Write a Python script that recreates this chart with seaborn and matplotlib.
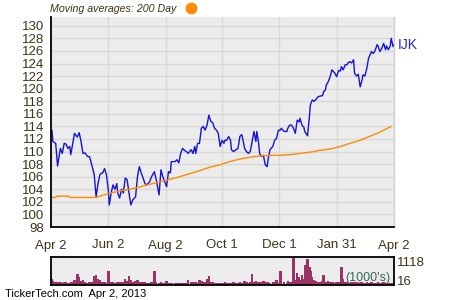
import matplotlib
matplotlib.use("Agg")
import matplotlib.pyplot as plt
import seaborn as sns
import numpy as np
import pandas as pd
from matplotlib.ticker import FixedLocator

# ---------------- data ----------------
price_days = [0, 1, 2, 5, 7, 8, 10, 12, 14, 16,
              18, 20, 21, 22, 25, 28, 30, 32, 34, 36,
              39, 41, 43, 46, 48, 50, 52, 53, 55, 57,
              59, 61, 62, 64, 66, 68, 70, 71, 73, 75,
              77, 79, 81, 83, 85, 87, 90, 92, 94, 96,
              98, 100, 102, 105, 107, 110, 112, 115, 117, 119,
              121, 123, 125, 127, 128, 132, 134, 136, 138, 140,
              142, 144, 146, 149, 151, 153, 154, 156, 158, 160,
              162, 164, 166, 168, 170, 172, 174, 176, 178, 180,
              182, 184, 185, 187, 189, 191, 192, 194, 197, 199,
              201, 203, 205, 206, 208, 210, 212, 214, 216, 218,
              219, 221, 222, 224, 226, 228, 230, 231, 233, 236,
              238, 240, 242, 244, 245, 248, 251, 252, 254, 256,
              258, 260, 262, 264, 265, 267, 269, 270, 273, 275,
              276, 278, 280, 282, 284, 286, 289, 290, 292, 293,
              295, 297, 299, 300, 302, 304, 306, 308, 309, 311,
              313, 315, 316, 318, 320, 322, 323, 325, 327, 329,
              331, 332, 334, 336, 338, 339, 341, 343, 345, 347,
              348, 350, 352, 354, 356, 357, 359, 361, 362, 364,
              365]

price_values = [113.3, 113.4, 111.6, 111.3, 107.7, 108.7, 110.5, 109.7, 111.3, 111.2,
                110.5, 110.8, 109.5, 110.3, 112.9, 112.3, 113.0, 111.6, 109.7, 109.8,
                109.2, 109.2, 108.1, 106.3, 102.8, 104.9, 106.3, 106.5, 106.6, 107.3,
                106.3, 103.9, 101.5, 103.4, 104.7, 104.0, 104.9, 103.4, 102.6, 104.0,
                103.4, 105.8, 105.5, 103.4, 101.5, 102.3, 102.8, 106.0, 107.6, 106.6,
                105.8, 104.9, 104.7, 105.2, 106.0, 106.8, 105.5, 103.1, 107.1, 106.0,
                105.2, 104.4, 106.8, 106.6, 108.4, 108.4, 108.7, 108.2, 109.7, 110.5,
                110.2, 110.0, 109.7, 110.3, 109.7, 110.8, 109.7, 111.3, 111.3, 113.7,
                114.0, 113.4, 114.2, 115.8, 114.8, 114.6, 113.7, 113.4, 112.9, 110.8,
                111.8, 111.3, 111.8, 111.8, 112.4, 111.8, 110.3, 110.0, 110.3, 110.5,
                112.4, 112.7, 111.3, 110.5, 110.0, 109.7, 110.0, 111.6, 113.2, 111.6,
                113.2, 111.3, 109.7, 109.2, 109.4, 107.9, 107.6, 108.7, 110.3, 110.8,
                111.8, 112.1, 113.4, 113.4, 113.7, 113.2, 113.2, 113.7, 114.2, 114.2,
                113.7, 112.9, 115.0, 114.7, 115.3, 114.2, 113.9, 113.2, 112.5, 115.6,
                117.4, 118.2, 118.0, 118.3, 118.7, 118.8, 118.9, 119.5, 119.8, 120.6,
                121.1, 121.9, 123.0, 122.8, 122.5, 121.9, 122.9, 122.8, 123.5, 123.0,
                123.8, 123.8, 124.1, 124.3, 124.1, 124.6, 122.5, 122.0, 122.3, 120.3,
                121.4, 122.2, 122.0, 123.2, 124.9, 125.2, 125.9, 125.6, 126.1, 127.0,
                126.8, 125.9, 126.4, 127.2, 126.2, 126.8, 126.2, 126.8, 128.0, 126.7,
                127.0]

volume_values = [320, 250, 150, 120, 100, 130, 110, 90, 120, 100,
                 90, 80, 100, 110, 200, 427, 320, 150, 180, 110,
                 90, 130, 100, 370, 400, 250, 180, 120, 100, 110,
                 90, 570, 220, 120, 100, 80, 110, 90, 100, 130,
                 110, 250, 150, 370, 180, 120, 150, 200, 110, 130,
                 100, 110, 90, 80, 100, 560, 120, 90, 100, 80,
                 90, 160, 80, 70, 80, 90, 70, 80, 60, 70,
                 80, 90, 200, 110, 130, 90, 100, 80, 200, 150,
                 100, 120, 250, 370, 110, 100, 80, 90, 70, 90,
                 80, 70, 100, 80, 90, 70, 60, 100, 80, 90,
                 120, 80, 90, 150, 100, 80, 110, 440, 130, 150,
                 120, 110, 130, 100, 150, 120, 100, 130, 90, 100,
                 110, 200, 90, 560, 120, 100, 90, 150, 130, 100,
                 1118, 200, 460, 300, 200, 390, 250, 810, 1040, 720,
                 550, 300, 200, 150, 120, 100, 140, 390, 120, 100,
                 150, 110, 130, 100, 90, 120, 100, 110, 720, 250,
                 130, 100, 120, 90, 100, 110, 80, 100, 90, 110,
                 100, 90, 80, 100, 90, 80, 100, 90, 80, 90,
                 100, 80, 90, 100, 80, 70, 90, 80, 70, 60,
                 60]

ma_days = [0, 5, 6, 19, 20, 48, 52, 63, 73, 84, 95, 105, 116, 127, 137, 148, 159,
           169, 180, 190, 201, 212, 222, 233, 244, 254, 265, 276, 286, 297, 308,
           318, 329, 339, 350, 362]
ma_values = [102.7, 102.7, 102.9, 102.9, 102.7, 102.7, 102.9, 103.4, 103.7, 104.0,
             104.4, 104.8, 105.2, 105.6, 106.0, 106.5, 107.0, 107.5, 107.9, 108.4,
             108.8, 109.1, 109.3, 109.4, 109.4, 109.5, 109.7, 109.9, 110.2, 110.4,
             110.8, 111.3, 111.8, 112.4, 113.1, 114.0]

tick_days = [0, 61, 122, 182, 243, 304, 365]
tick_labels = ["Apr 2", "Jun 2", "Aug 2", "Oct 1", "Dec 1", "Jan 31", "Apr 2"]
minor_days = [30, 91, 152, 213, 274, 335]
ticker = "IJK"
vol_max_label = "1118"
vol_min_label = "16"

price_df = pd.DataFrame({"day": price_days, "price": price_values, "volume": volume_values})
ma_df = pd.DataFrame({"day": ma_days, "ma": ma_values})

# ---------------- style ----------------
sns.set_style("white")
plt.rcParams["font.family"] = ["Liberation Sans", "DejaVu Sans"]
txt_color = "#3d3418"
bg = "#ececec"
grid_c = "#d8d8d8"

fig = plt.figure(figsize=(4.5, 3.0), dpi=100)
W, H = 450, 300

def axrect(x0, y0, x1, y1):
    return [x0 / W, 1 - y1 / H, (x1 - x0) / W, (y1 - y0) / H]

ax = fig.add_axes(axrect(51, 17, 394, 227))
axv = fig.add_axes(axrect(51, 257, 394, 285))

# ---------------- main panel ----------------
ax.set_facecolor(bg)
sns.lineplot(data=price_df, x="day", y="price", ax=ax, color="#1414d8", lw=1.0)
sns.lineplot(data=ma_df, x="day", y="ma", ax=ax, color="#ff8c00", lw=1.0)
ax.set_xlim(0, 365)
ax.set_ylim(98, 131.4)
ax.set_xlabel("")
ax.set_ylabel("")

ax.yaxis.set_major_locator(FixedLocator(np.arange(98, 131, 2)))
ax.yaxis.set_minor_locator(FixedLocator(np.arange(99, 131, 2)))
ax.xaxis.set_major_locator(FixedLocator(tick_days))
ax.xaxis.set_minor_locator(FixedLocator(minor_days))
ax.set_xticklabels(tick_labels)
ax.grid(True, which="major", color=grid_c, lw=1.0)
ax.set_axisbelow(True)
ax.tick_params(axis="both", which="both", direction="in", length=3, width=1,
               color="black", labelcolor=txt_color, labelsize=9.5)
ax.tick_params(axis="y", which="major", pad=5)
ax.tick_params(axis="x", which="major", pad=9)
ax.tick_params(axis="y", which="both", right=False)
ax.tick_params(axis="x", which="both", top=False)
for side in ["left", "bottom"]:
    ax.spines[side].set_color("black")
    ax.spines[side].set_linewidth(1.3)
ax.spines["top"].set_visible(False)
ax.spines["right"].set_color("#d0d0d0")
ax.spines["right"].set_linewidth(1.0)

ax.annotate(ticker, xy=(365, price_values[-1]), xytext=(3, 0), textcoords="offset points",
            color="#2a2ad0", fontsize=10, va="center", ha="left", annotation_clip=False)

# ---------------- volume panel ----------------
axv.set_facecolor(bg)
axv.bar(price_df["day"], price_df["volume"], width=2.6, color="#993366", linewidth=0)
axv.set_xlim(0, 365)
axv.set_ylim(0, 1118)
axv.set_xticks([])
axv.set_yticks([])
for s in axv.spines.values():
    s.set_color("black")
    s.set_linewidth(1.3)
axv.text(0.99, 0.04, "(1000's)", transform=axv.transAxes, ha="right", va="bottom",
         color="#3a6a50", fontsize=9)
fig.text(397 / W, 1 - 263 / H, vol_max_label, ha="left", va="center", color=txt_color, fontsize=9.5)
fig.text(397 / W, 1 - 282 / H, vol_min_label, ha="left", va="center", color=txt_color, fontsize=9.5)

# ---------------- header / footer ----------------
fig.text(50 / W, 1 - 9 / H, "Moving averages: 200 Day", ha="left", va="center",
         style="italic", color=txt_color, fontsize=7.7)
ax.plot([191 / W], [1 - 8 / H], marker="o", ms=7.5, color="#ff8c00",
        transform=fig.transFigure, clip_on=False)
fig.text(5 / W, 1 - 294 / H, "TickerTech.com  Apr 2, 2013", ha="left", va="center",
         color="black", fontsize=8)

fig.savefig("out.png", dpi=100)
